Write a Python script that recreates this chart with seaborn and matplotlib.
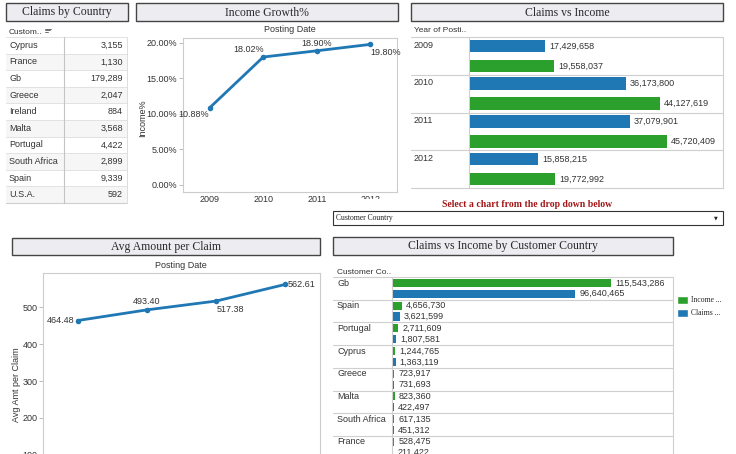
import matplotlib
matplotlib.use('Agg')
import matplotlib.pyplot as plt
import numpy as np
import pandas as pd
import seaborn as sns
from matplotlib.patches import Rectangle, Patch
from matplotlib.ticker import FuncFormatter, FixedLocator

# ---------------- data ----------------
table_countries = ['Cyprus', 'France', 'Gb', 'Greece', 'Ireland', 'Malta',
                   'Portugal', 'South Africa', 'Spain', 'U.S.A.']
table_claims = [3155, 1130, 179289, 2047, 884, 3568, 4422, 2899, 9339, 592]

growth_years = ['2009', '2010', '2011', '2012']
growth_pct = [10.88, 18.02, 18.90, 19.80]

ci_years = ['2009', '2010', '2011', '2012']
ci_claims = [17429658, 36173800, 37079901, 15858215]
ci_income = [19558037, 44127619, 45720409, 19772992]

avg_years = ['2009', '2010', '2011', '2012']
avg_amount = [464.48, 493.40, 517.38, 562.61]

cc_countries = ['Gb', 'Spain', 'Portugal', 'Cyprus', 'Greece', 'Malta',
                'South Africa', 'France']
cc_income = [115543286, 4656730, 2711609, 1244765, 723917, 823360, 617135, 528475]
cc_claims = [96640465, 3621599, 1807581, 1363119, 731693, 422497, 451312, 211422]

BLUE = '#1f77b4'
GREEN = '#2ca02c'
TXT = '#333333'

sns.set_style('white')
plt.rcParams['font.family'] = ['Liberation Sans', 'DejaVu Sans']
SERIF = ['Liberation Serif', 'DejaVu Serif']
FS = 6.5

W, H = 736, 454
fig = plt.figure(figsize=(W / 100, H / 100), dpi=100)
fig.patch.set_facecolor('white')


def px_axes(x0, y0, x1, y1, z=1):
    ax = fig.add_axes([x0 / W, 1 - y1 / H, (x1 - x0) / W, (y1 - y0) / H])
    ax.set_zorder(z)
    ax.patch.set_alpha(0)
    return ax


bg = px_axes(0, 0, W, H, z=0)
bg.set_xlim(0, W)
bg.set_ylim(H, 0)
bg.axis('off')


def title_box(x0, y0, x1, y1, text):
    bg.add_patch(Rectangle((x0, y0), x1 - x0, y1 - y0, facecolor='#ededf1',
                           edgecolor='#454545', lw=1.0))
    bg.text((x0 + x1) / 2, (y0 + y1) / 2 + 0.5, text, ha='center', va='center',
            family=SERIF, fontsize=8.5, color='#2a2a2a')


# ---------------- Claims by Country (table) ----------------
title_box(6, 3, 128, 21, 'Claims by Country')
bg.text(9, 32, 'Custom..', fontsize=FS - 0.5, color=TXT, va='center')
for i, ln in enumerate([6, 4.5, 3]):
    bg.plot([45, 45 + ln], [28.5 + i * 1.8, 28.5 + i * 1.8], color='#555', lw=0.6)
t_top, t_row = 37, 16.6
for i, (c, v) in enumerate(zip(table_countries, table_claims)):
    yt = t_top + i * t_row
    if i % 2 == 1:
        bg.add_patch(Rectangle((6, yt), 121, t_row, facecolor='#f6f6f6', edgecolor='none'))
    bg.plot([6, 127], [yt, yt], color='#e2e2e2', lw=0.7)
    bg.text(9, yt + t_row / 2, c, fontsize=FS, color=TXT, va='center')
    bg.text(123, yt + t_row / 2, f'{v:,}', fontsize=FS, color=TXT, va='center', ha='right')
t_bot = t_top + len(table_countries) * t_row
bg.plot([6, 127], [t_bot, t_bot], color='#cfcfcf', lw=0.8)
bg.plot([64, 64], [t_top, t_bot], color='#c4c4c4', lw=0.8)
bg.plot([127, 127], [t_top, t_bot], color='#dddddd', lw=0.7)

# ---------------- Income Growth% ----------------
title_box(136, 3, 398, 21, 'Income Growth%')
bg.text(290, 29.5, 'Posting Date', fontsize=FS, color=TXT, ha='center', va='center')
bg.text(143, 118, 'Income%', fontsize=FS, color=TXT, ha='center', va='center', rotation=90)

ax1 = px_axes(183, 38, 397, 192, z=1)
df_g = pd.DataFrame({'year': growth_years, 'pct': growth_pct})
sns.lineplot(data=df_g, x='year', y='pct', ax=ax1, color=BLUE, lw=2,
             marker='o', markersize=4, markeredgewidth=0)
ax1.set_xlim(-0.5, len(growth_years) - 0.5)
ax1.set_ylim(-0.99, 20.7)
ax1.set_yticks([0, 5, 10, 15, 20])
ax1.yaxis.set_major_formatter(FuncFormatter(lambda v, p: f'{v:.2f}%'))
ax1.xaxis.set_minor_locator(FixedLocator(np.arange(-0.5, len(growth_years), 1.0)))
ax1.tick_params(axis='x', which='major', length=0, pad=2, labelsize=FS, labelcolor=TXT)
ax1.tick_params(axis='x', which='minor', length=3, color='#bbbbbb', width=0.7)
ax1.tick_params(axis='y', length=3, color='#bbbbbb', width=0.7, pad=1,
                labelsize=FS, labelcolor=TXT, left=True)
ax1.set_xlabel('')
ax1.set_ylabel('')
for s in ax1.spines.values():
    s.set_color('#cccccc')
    s.set_linewidth(0.8)
g_offsets = [((-1, -7), 'right', 'center'), ((1, 3), 'right', 'bottom'),
             ((0, 3), 'center', 'bottom'), ((0, -8), 'left', 'center')]
for i, (x, y) in enumerate(zip(growth_years, growth_pct)):
    off, ha, va = g_offsets[i]
    ax1.annotate(f'{y:.2f}%', (i, y), xytext=off, textcoords='offset pixels',
                 ha=ha, va=va, fontsize=FS, color=TXT)

# ---------------- Claims vs Income (by year) ----------------
title_box(411, 3, 723, 21, 'Claims vs Income')
bg.text(414, 31, 'Year of Posti..', fontsize=FS - 0.5, color=TXT, va='center')
c_top, c_bot, c_x0, c_div, c_x1 = 37, 188, 411, 469, 723
c_row = (c_bot - c_top) / len(ci_years)
for i, yr in enumerate(ci_years):
    yt = c_top + i * c_row
    bg.plot([c_x0, c_x1], [yt, yt], color='#cfcfcf', lw=0.8)
    bg.text(414, yt + 8, yr, fontsize=FS, color=TXT, va='center')
bg.plot([c_x0, c_x1], [c_bot, c_bot], color='#cfcfcf', lw=0.8)
bg.plot([c_div, c_div], [c_top, c_bot], color='#cfcfcf', lw=0.8)
bg.plot([c_x1, c_x1], [c_top, c_bot], color='#cfcfcf', lw=0.8)

ax2 = px_axes(470, c_top, c_x1, c_bot, z=1)
df_ci = pd.DataFrame({
    'year': ci_years * 2,
    'measure': ['Claims'] * len(ci_years) + ['Income'] * len(ci_years),
    'value': ci_claims + ci_income,
})
sns.barplot(data=df_ci, y='year', x='value', hue='measure', hue_order=['Claims', 'Income'],
            palette=[BLUE, GREEN], saturation=1, orient='h', width=1.06, gap=0.38,
            linewidth=0, ax=ax2, legend=False)
ax2.set_xlim(0, 58.8e6)
ax2.set_ylim(len(ci_years) - 0.5, -0.5)
for cont in ax2.containers:
    ax2.bar_label(cont, fmt='{:,.0f}', padding=3, fontsize=FS, color=TXT)
ax2.axis('off')

# ---------------- Avg Amount per Claim ----------------
title_box(12, 238, 320, 255, 'Avg Amount per Claim')
bg.text(181, 265, 'Posting Date', fontsize=FS, color=TXT, ha='center', va='center')
bg.text(17, 385, 'Avg Amt per Claim', fontsize=FS, color=TXT, ha='center', va='center',
        rotation=90)
ax3 = px_axes(43, 273, 320, 460, z=1)
df_a = pd.DataFrame({'year': avg_years, 'amt': avg_amount})
sns.lineplot(data=df_a, x='year', y='amt', ax=ax3, color=BLUE, lw=2,
             marker='o', markersize=4, markeredgewidth=0)
ax3.set_xlim(-0.5, len(avg_years) - 0.5)
ax3.set_ylim(86, 593.5)
ax3.set_yticks([100, 200, 300, 400, 500])
ax3.tick_params(axis='y', length=3, color='#bbbbbb', width=0.7, pad=1,
                labelsize=FS, labelcolor=TXT, left=True)
ax3.tick_params(axis='x', length=0, labelbottom=False)
ax3.set_xlabel('')
ax3.set_ylabel('')
for s in ax3.spines.values():
    s.set_color('#cccccc')
    s.set_linewidth(0.8)
a_offsets = [((-3, 0), 'right', 'center'), ((0, 4), 'center', 'bottom'),
             ((1, -8), 'left', 'center'), ((2, 0), 'left', 'center')]
for i, (x, y) in enumerate(zip(avg_years, avg_amount)):
    off, ha, va = a_offsets[i]
    ax3.annotate(f'{y:.2f}', (i, y), xytext=off, textcoords='offset pixels',
                 ha=ha, va=va, fontsize=FS, color=TXT)

# ---------------- Claims vs Income by Customer Country ----------------
title_box(333, 237, 673, 255, 'Claims vs Income by Customer Country')
bg.text(337, 272, 'Customer Co..', fontsize=FS - 0.5, color=TXT, va='center')
k_top, k_x0, k_div, k_x1, k_row = 277, 333, 392, 673, 22.7
k_bot = k_top + len(cc_countries) * k_row
for i, c in enumerate(cc_countries):
    yt = k_top + i * k_row
    bg.plot([k_x0, k_x1], [yt, yt], color='#cfcfcf', lw=0.8)
    bg.text(337, yt + 6, c, fontsize=FS, color=TXT, va='center')
bg.plot([k_div, k_div], [k_top, k_bot], color='#cfcfcf', lw=0.8)
bg.plot([k_x1, k_x1], [k_top, k_bot], color='#cfcfcf', lw=0.8)

ax4 = px_axes(k_div + 1, k_top, k_x1, k_bot, z=1)
df_cc = pd.DataFrame({
    'country': cc_countries * 2,
    'measure': ['Income'] * len(cc_countries) + ['Claims'] * len(cc_countries),
    'value': cc_income + cc_claims,
})
sns.barplot(data=df_cc, y='country', x='value', hue='measure', hue_order=['Income', 'Claims'],
            palette=[GREEN, BLUE], saturation=1, orient='h', width=0.96, gap=0.25,
            linewidth=0, ax=ax4, legend=False)
ax4.set_xlim(0, 148.3e6)
ax4.set_ylim(len(cc_countries) - 0.5, -0.5)
for cont in ax4.containers:
    ax4.bar_label(cont, fmt='{:,.0f}', padding=3, fontsize=FS, color=TXT)
ax4.axis('off')
ax4.legend(handles=[Patch(facecolor=GREEN), Patch(facecolor=BLUE)],
           labels=['Income ...', 'Claims ...'], loc='upper left',
           bbox_to_anchor=(675 / W, 1 - 294 / H), bbox_transform=fig.transFigure,
           frameon=False, prop={'family': SERIF, 'size': 5.5},
           handlelength=1.45, handleheight=1.35, handletextpad=0.4,
           labelspacing=0.55, borderpad=0.2, borderaxespad=0)

# ---------------- drop-down area (drawn on top) ----------------
fg = px_axes(0, 0, W, H, z=5)
fg.set_xlim(0, W)
fg.set_ylim(H, 0)
fg.axis('off')
fg.add_patch(Rectangle((330, 198.5), 406, 32, facecolor='white', edgecolor='none'))
fg.text(527, 204.5, 'Select a chart from the drop down below', family=SERIF,
        fontweight='bold', fontsize=7, color='#a31515', ha='center', va='center')
fg.add_patch(Rectangle((333, 211), 390, 14, facecolor='white', edgecolor='#333333', lw=0.8))
fg.text(336, 218.3, 'Customer Country', family=SERIF, fontsize=5.5, color='#222',
        va='center')
fg.text(716, 218, '\u25BC', family=['DejaVu Sans'], fontsize=3.5, color='#222',
        ha='center', va='center')

fig.savefig('out.png', dpi=100, facecolor='white')
